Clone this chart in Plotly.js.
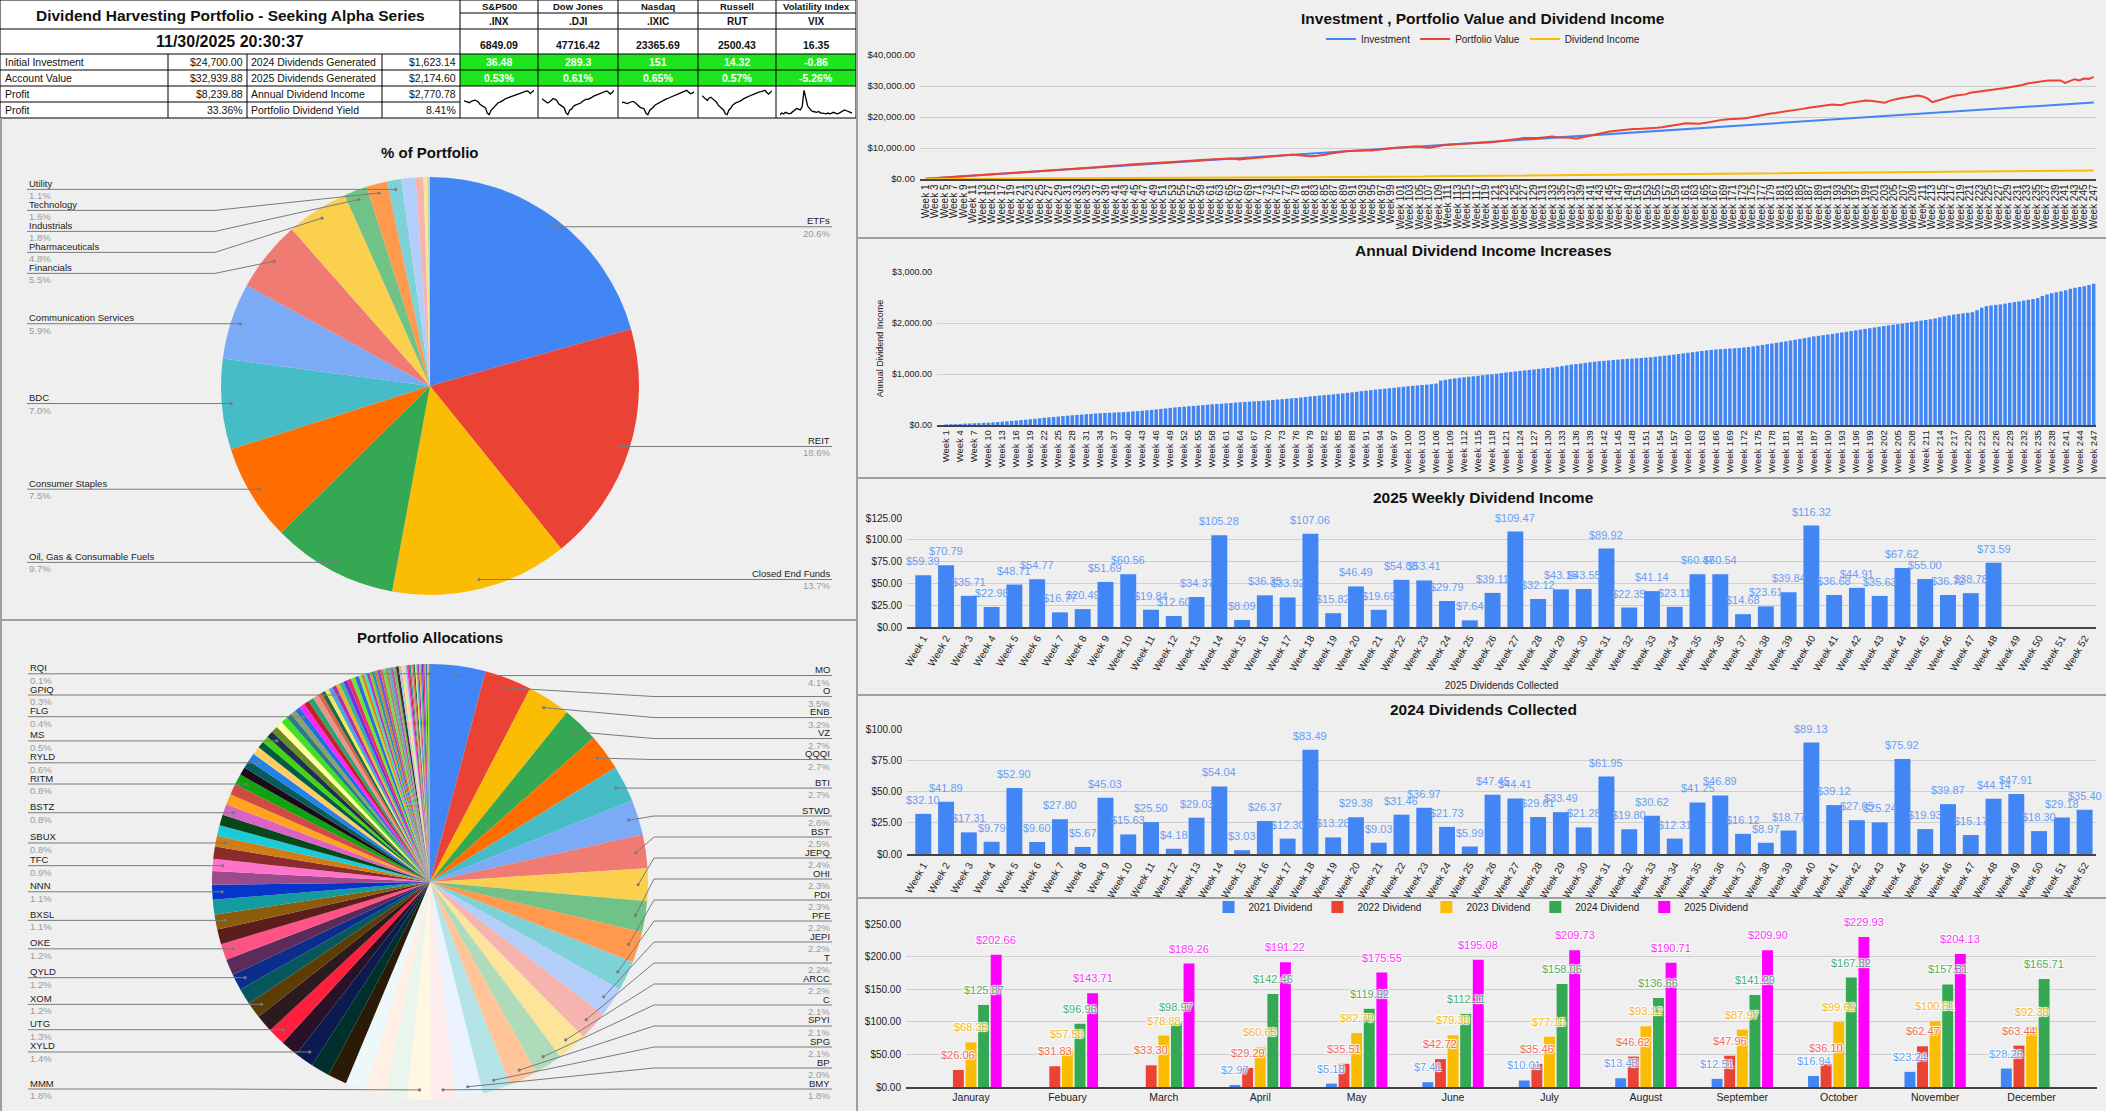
<!DOCTYPE html>
<html><head><meta charset="utf-8">
<script src="https://cdn.plot.ly/plotly-3.0.1.min.js"></script>
<style>html,body{margin:0;padding:0;background:#efefef;overflow:hidden}</style>
</head><body><div id="chart" style="width:2106px;height:1111px"></div>
<script>
// ---------------- DATA ----------------
const tableTitle = 'Dividend Harvesting Portfolio - Seeking Alpha Series';
const tableDate = '11/30/2025 20:30:37';
const indexNames = ['S&P500','Dow Jones','Nasdaq','Russell','Volatility Index'];
const indexTickers = ['.INX','.DJI','.IXIC','RUT','VIX'];
const indexValues = ['6849.09','47716.42','23365.69','2500.43','16.35'];
const indexChange = ['36.48','289.3','151','14.32','-0.86'];
const indexChangePct = ['0.53%','0.61%','0.65%','0.57%','-5.26%'];
const summaryLabels = ['Initial Investment','Account Value','Profit','Profit'];
const summaryValues = ['$24,700.00','$32,939.88','$8,239.88','33.36%'];
const dividendLabels = ['2024 Dividends Generated','2025 Dividends Generated','Annual Dividend Income','Portfolio Dividend Yield'];
const dividendValues = ['$1,623.14','$2,174.60','$2,770.78','8.41%'];

const sparkSP500 = [6050,6000,5950,5900,6000,6050,6100,6050,5950,5750,5650,5600,5500,5100,4980,5300,5450,5650,5800,5900,5950,6000,6100,6200,6250,6300,6350,6400,6450,6500,6550,6600,6650,6700,6750,6800,6750,6600,6750,6849];
const sparkDow = [44500,44000,43500,42800,43200,44000,44500,44300,43800,42500,41800,41500,41000,39000,38300,40000,40500,41500,42000,42300,42500,42800,43500,44000,44300,44200,44500,45000,45500,45800,46200,46500,46800,47000,47200,47500,47000,46300,46900,47716];
const sparkNasdaq = [19500,19700,19400,19200,19600,19800,20000,19600,19000,18200,17800,17600,17300,15800,15300,16800,17300,18000,18700,19100,19500,19800,20200,20600,20900,21100,21400,21700,22000,22300,22600,22800,23000,23400,23700,23900,23300,22700,22900,23366];
const sparkRussell = [2350,2300,2250,2200,2280,2300,2250,2200,2150,2050,2000,1950,1900,1780,1750,1900,1950,2050,2100,2130,2150,2170,2200,2250,2280,2300,2320,2350,2380,2400,2430,2450,2470,2480,2500,2520,2460,2400,2450,2500];
const sparkVIX = [14,16,15,17,16,15,16,18,19,22,21,20,24,45,35,25,22,19,18,17,17,18,16,16,15,15,16,15,16,17,16,15,16,17,18,20,19,18,17,16];

const sectorLabels = ['ETFs','REIT','Closed End Funds','Oil, Gas & Consumable Fuels','Consumer Staples','BDC','Communication Services','Financials','Pharmaceuticals','Industrials','Technology','Utility',null,null,null,null];
const sectorPct = [20.6,18.6,13.7,9.7,7.5,7.0,5.9,5.5,4.8,1.8,1.6,1.1,1.1,0.6,0.3,0.2];

const allocLabels = ['MO','O','ENB','VZ','QQQI','BTI','STWD','BST','JEPQ','OHI','PDI','PFE','JEPI','T','ARCC','C','SPYI','SPG','BP','BMY',
 'MMM',null,null,null,null,null,'XYLD',null,'UTG',null,'XOM',null,'QYLD',null,'OKE',null,'BXSL',null,'NNN',null,
 'TFC',null,'SBUX',null,null,'BSTZ',null,null,'RITM',null,null,'RYLD',null,null,null,'MS',null,null,null,null,
 null,'FLG',null,null,null,null,null,null,null,null,'GPIQ',null,null,null,null,null,null,
 null,null,null,null,null,null,null,null,null,null,null,null,null,null,null,
 null,null,null,null,null,null,null,null,null,null,null,null,null,null,null,null,null,null,null,null,null,null,'RQI'];
const allocPct = [4.1,3.5,3.2,2.7,2.7,2.7,2.6,2.5,2.4,2.3,2.3,2.2,2.2,2.2,2.2,2.1,2.1,2.1,2.0,1.8,
 1.8,1.6,1.5,1.5,1.4,1.4,1.4,1.3,1.3,1.3,1.2,1.2,1.2,1.2,1.2,1.1,1.1,1.1,1.1,1.0,
 0.9,0.9,0.8,0.8,0.8,0.8,0.8,0.8,0.8,0.6,0.6,0.6,0.6,0.5,0.5,0.5,0.5,0.5,0.5,0.4,
 0.4,0.4,0.4,0.4,0.4,0.4,0.3,0.3,0.3,0.3,0.3,0.3,0.3,0.3,0.3,0.3,0.3,
 0.2,0.2,0.2,0.2,0.2,0.2,0.2,0.2,0.2,0.2,0.2,0.2,0.2,0.2,0.2,
 0.1,0.1,0.1,0.1,0.1,0.1,0.1,0.1,0.1,0.1,0.1,0.1,0.1,0.1,0.1,0.1,0.1,0.1,0.1,0.1,0.1,0.1,0.1];

const investment = [100,200,300,400,500,600,700,800,900,1000,1100,1200,1300,1400,1500,1600,1700,1800,1900,2000,
2100,2200,2300,2400,2500,2600,2700,2800,2900,3000,3100,3200,3300,3400,3500,3600,3700,3800,3900,4000,
4100,4200,4300,4400,4500,4600,4700,4800,4900,5000,5100,5200,5300,5400,5500,5600,5700,5800,5900,6000,
6100,6200,6300,6400,6500,6600,6700,6800,6900,7000,7100,7200,7300,7400,7500,7600,7700,7800,7900,8000,
8100,8200,8300,8400,8500,8600,8700,8800,8900,9000,9100,9200,9300,9400,9500,9600,9700,9800,9900,10000,
10100,10200,10300,10400,10500,10600,10700,10800,10900,11000,11100,11200,11300,11400,11500,11600,11700,11800,11900,12000,
12100,12200,12300,12400,12500,12600,12700,12800,12900,13000,13100,13200,13300,13400,13500,13600,13700,13800,13900,14000,
14100,14200,14300,14400,14500,14600,14700,14800,14900,15000,15100,15200,15300,15400,15500,15600,15700,15800,15900,16000,
16100,16200,16300,16400,16500,16600,16700,16800,16900,17000,17100,17200,17300,17400,17500,17600,17700,17800,17900,18000,
18100,18200,18300,18400,18500,18600,18700,18800,18900,19000,19100,19200,19300,19400,19500,19600,19700,19800,19900,20000,
20100,20200,20300,20400,20500,20600,20700,20800,20900,21000,21100,21200,21300,21400,21500,21600,21700,21800,21900,22000,
22100,22200,22300,22400,22500,22600,22700,22800,22900,23000,23100,23200,23300,23400,23500,23600,23700,23800,23900,24000,
24100,24200,24300,24400,24500,24600,24700];

const portfolioValue = [100,198,301,405,498,602,705,801,910,1012,
1105,1210,1302,1415,1508,1620,1715,1830,1925,2040,
2130,2245,2340,2455,2550,2660,2750,2870,2960,3080,
3170,3290,3380,3500,3590,3720,3800,3930,4010,4150,
4260,4390,4520,4700,4760,4850,4980,5060,5130,5210,
5320,5400,5510,5650,5800,5920,6010,6080,6150,6220,
6330,6420,6500,6580,6650,6520,6330,6480,6620,6800,
6920,7050,7180,7350,7580,7760,7900,7820,7750,7600,
7420,7300,7380,7550,7820,8150,8480,8700,8900,9020,
9120,9180,9230,9200,9180,9300,9520,9700,9900,10050,
10180,10320,10410,10450,10380,10200,10100,10350,10700,10900,
11050,11120,11180,11250,11300,11380,11450,11500,11700,11850,
12000,12150,12350,12500,12750,13000,13200,13150,13100,13200,
13400,13550,13700,13500,13400,13450,13300,13000,13350,13700,
14000,14300,14650,15000,15300,15500,15700,15850,16000,16100,
16150,16200,16250,16300,16500,16700,16900,17100,17300,17650,
18000,17900,17700,17800,18100,18400,18700,19000,19150,19250,
19300,19400,19500,19700,20000,20300,20700,21000,21150,21300,
21500,21800,22100,22300,22500,22700,22950,23200,23450,23700,
23800,24000,23900,23850,24400,24600,24800,25000,25300,25250,
25100,24850,24600,25200,25700,25950,26200,26450,26700,26900,
26600,26000,24800,25300,25800,26300,26600,26900,27100,27300,
27800,28000,28200,28400,28550,28700,29000,29300,29550,29800,
30050,30300,30800,31050,31300,31500,31700,31750,31700,31800,
31000,31500,32200,31800,32400,32300,32940];

const annualDividendIncome = [12,15,18,22,27,30,34,38,42,46,
52,58,65,72,80,88,96,104,112,122,
132,142,150,158,165,175,182,190,198,205,
212,218,225,232,236,240,244,248,252,258,
265,272,280,288,296,305,315,325,335,345,
352,360,368,375,382,390,398,405,412,418,
425,432,440,446,452,458,464,470,476,482,
490,498,506,514,522,530,540,550,560,570,
578,586,594,602,610,620,630,640,652,664,
674,684,694,704,712,720,730,740,750,760,
768,776,784,792,800,812,870,885,900,915,
925,935,945,955,965,975,985,995,1005,1018,
1030,1040,1050,1060,1070,1080,1090,1100,1110,1118,
1126,1140,1155,1170,1185,1195,1205,1218,1230,1240,
1250,1258,1266,1274,1282,1290,1296,1302,1308,1314,
1320,1328,1338,1348,1358,1368,1380,1392,1404,1416,
1428,1440,1452,1462,1472,1480,1488,1494,1500,1506,
1512,1520,1530,1542,1556,1570,1584,1598,1612,1626,
1640,1656,1672,1688,1704,1720,1736,1750,1762,1774,
1786,1800,1814,1828,1842,1856,1870,1884,1898,1912,
1926,1940,1954,1966,1978,1990,2004,2018,2032,2046,
2060,2074,2090,2110,2130,2148,2164,2178,2190,2200,
2212,2250,2300,2330,2345,2355,2365,2380,2395,2410,
2425,2440,2455,2470,2490,2530,2560,2585,2605,2620,
2640,2670,2690,2705,2720,2745,2770.78];

const div2025Weekly = [59.39,70.79,35.71,22.98,48.71,54.77,16.77,20.49,51.69,60.56,19.84,12.60,34.37,105.28,8.09,36.35,33.92,107.06,15.82,46.49,19.69,54.08,53.41,29.79,7.64,39.11,109.47,32.12,43.15,43.55,89.92,22.35,41.14,23.11,60.47,60.54,14.68,23.61,39.84,116.32,36.68,44.91,35.63,67.62,55.00,36.72,38.78,73.59,null,null,null,null];
const div2024Weekly = [32.10,41.89,17.31,9.79,52.90,9.60,27.80,5.67,45.03,15.63,25.50,4.18,29.03,54.04,3.03,26.37,12.30,83.49,13.28,29.38,9.03,31.46,36.97,21.73,5.99,47.45,44.41,29.61,33.49,21.28,61.95,19.80,30.62,12.31,41.25,46.89,16.12,8.97,18.77,89.13,39.12,27.05,25.24,75.92,19.93,39.87,15.17,44.14,47.91,18.30,29.18,35.40];

const months = ['Januray','Febuary','March','April','May','June','July','August','September','October','November','December'];
const div2021 = [null,null,null,2.97,5.18,7.41,10.01,13.43,12.51,16.94,23.24,28.26];
const div2022 = [26.06,31.83,33.30,29.29,35.51,42.72,35.46,46.62,47.96,36.10,62.47,63.44];
const div2023 = [68.33,57.58,78.88,60.63,82.70,79.38,77.15,93.12,87.97,99.62,100.81,92.38];
const div2024 = [125.87,96.96,98.97,142.46,119.92,112.11,158.06,136.66,141.29,167.82,157.31,165.71];
const div2025 = [202.66,143.71,189.26,191.22,175.55,195.08,209.73,190.71,209.90,229.93,204.13,null];
const monthlySeriesNames = ['2021 Dividend','2022 Dividend','2023 Dividend','2024 Dividend','2025 Dividend'];

// ---------------- HELPERS ----------------
const W = 2106, H = 1111;
const FONT = 'Liberation Sans, Arial, sans-serif';
const X = v => v / W, Y = v => 1 - v / H;
const px = (a, b) => [a / W, b / W];
const py = (top, bottom) => [1 - bottom / H, 1 - top / H];
const weeksAll = investment.map((_, i) => 'Week ' + (i + 1));
const weeks52 = div2024Weekly.map((_, i) => 'Week ' + (i + 1));
const money = v => (v == null ? '' : '$' + v.toFixed(2));

const shapes = [], annotations = [], traces = [];
function txt(x, y, text, o = {}) {
  annotations.push({xref:'paper', yref:'paper', x:X(x), y:Y(y), text, showarrow:false,
    xanchor:o.xa || 'center', yanchor:'middle',
    font:{family:FONT, size:o.size || 10.5, color:o.color || '#111'}});
}
function line(x0, y0, x1, y1, color = '#000', width = 1) {
  shapes.push({type:'line', xref:'paper', yref:'paper', x0:X(x0), y0:Y(y0), x1:X(x1), y1:Y(y1), line:{color, width}});
}
function rect(x0, y0, x1, y1, fill) {
  shapes.push({type:'rect', xref:'paper', yref:'paper', x0:X(x0), y0:Y(y0), x1:X(x1), y1:Y(y1), fillcolor:fill, line:{width:0}, layer:'below'});
}
function barLabels(axis, values, offset, color, size, yshift, halo) {
  values.forEach((v, i) => {
    if (v == null) return;
    const font = {family:FONT, size, color};
    if (halo) font.shadow = '1px 1px 1px #fff, -1px -1px 1px #fff, 1px -1px 1px #fff, -1px 1px 1px #fff';
    annotations.push({xref:'x' + axis, yref:'y' + axis, x:i + offset, y:v, text:money(v), showarrow:false,
      yshift, yanchor:'middle', xanchor:'center', font});
  });
}

// ---------------- TABLE ----------------
const tc = [0,168,247,382,460,538,618,698,776,856];
rect(0, 0, 856, 118, '#ffffff');
for (let j = 0; j < 5; j++) { rect(tc[4+j], 54, tc[5+j], 70, '#1ee41e'); rect(tc[4+j], 70, tc[5+j], 86, '#1ee41e'); }
[0,29,54,70,86,118].forEach(y => line(0, y, 856, y));
line(0, 102, 460, 102);
line(460, 13, 856, 13);
[168,247,382].forEach(x => line(x, 54, x, 118));
[0,460,538,618,698,776,856].forEach(x => line(x, 0, x, 118));
txt(230, 15, '<b>' + tableTitle + '</b>', {size:15.5});
txt(230, 42, '<b>' + tableDate + '</b>', {size:16});
for (let j = 0; j < 5; j++) {
  const cx = (tc[4+j] + tc[5+j]) / 2;
  txt(cx, 7, '<b>' + indexNames[j] + '</b>', {size:9.5});
  txt(cx, 21.5, '<b>' + indexTickers[j] + '</b>', {size:10});
  txt(cx, 45, '<b>' + indexValues[j] + '</b>', {size:10.5});
  txt(cx, 62, '<b>' + indexChange[j] + '</b>', {size:10.5, color:'#ffffff'});
  txt(cx, 78, '<b>' + indexChangePct[j] + '</b>', {size:10.5, color:'#ffffff'});
}
const rowY = [62, 78, 94, 110];
for (let i = 0; i < 4; i++) {
  txt(3, rowY[i], summaryLabels[i], {xa:'left'});
  txt(245, rowY[i], summaryValues[i], {xa:'right'});
  txt(249, rowY[i], dividendLabels[i], {xa:'left'});
  txt(458, rowY[i], dividendValues[i], {xa:'right'});
}
const sparks = [sparkSP500, sparkDow, sparkNasdaq, sparkRussell, sparkVIX];
const sparkLayout = {};
sparks.forEach((s, j) => {
  const n = j + 6;
  traces.push({type:'scatter', mode:'lines', x:s.map((_, i) => i), y:s, xaxis:'x' + n, yaxis:'y' + n,
    line:{color:'#000', width:1.3}, showlegend:false, hoverinfo:'skip'});
  sparkLayout['xaxis' + n] = {domain:px(tc[4+j] + 4, tc[5+j] - 4), visible:false, anchor:'y' + n, fixedrange:true};
  sparkLayout['yaxis' + n] = {domain:py(89, 116), visible:false, anchor:'x' + n, fixedrange:true};
});

// ---------------- PIES ----------------
const pieGray = '#7a7a7a';
function pieLabels(values, names, cx, cy, r, gap, leftX, rightX, top, bottom) {
  const total = values.reduce((a, b) => a + b, 0);
  let cum = 0; const items = [];
  values.forEach((v, i) => {
    const mid = (cum + v / 2) / total * 2 * Math.PI; cum += v;
    if (!names[i]) return;
    items.push({name:names[i], pct:(v / total * 100).toFixed(1) + '%',
      px:cx + 0.955 * r * Math.sin(mid), py:cy - 0.955 * r * Math.cos(mid), left:mid > Math.PI});
  });
  [true, false].forEach(side => {
    const arr = items.filter(it => it.left === side).sort((a, b) => a.py - b.py);
    arr.forEach((it, k) => { it.y = Math.max(it.py, top, k ? arr[k-1].y + gap : -1e9); });
    for (let k = arr.length - 1; k >= 0; k--) arr[k].y = Math.min(arr[k].y, bottom, k < arr.length - 1 ? arr[k+1].y - gap : 1e9);
    arr.forEach(it => {
      const ex = side ? leftX : rightX, bx = side ? cx - r - 6 : cx + r + 6;
      shapes.push({type:'path', xref:'paper', yref:'paper',
        path:`M ${X(ex)},${Y(it.y)} L ${X(bx)},${Y(it.y)} L ${X(it.px)},${Y(it.py)}`,
        line:{color:pieGray, width:1}});
      shapes.push({type:'circle', xref:'paper', yref:'paper', x0:X(it.px - 1.6), x1:X(it.px + 1.6), y0:Y(it.py + 1.6), y1:Y(it.py - 1.6),
        fillcolor:pieGray, line:{width:0}});
      txt(ex, it.y - 6, it.name, {xa:side ? 'left' : 'right', size:9.5, color:'#222'});
      txt(ex, it.y + 6.5, it.pct, {xa:side ? 'left' : 'right', size:9.5, color:'#9a9a9a'});
    });
  });
}
const sectorColors = ['#4285f4','#ea4335','#fbbc04','#34a853','#ff6d01','#46bdc6','#7baaf7','#f07b72','#fcd04f','#71c287','#ff994d','#7ed1d7','#b3cefb','#f7b4ae','#fde49b','#aedcba'];
traces.push({type:'pie', values:sectorPct, labels:sectorLabels.map((l, i) => l || ('other ' + (i + 1))),
  sort:false, direction:'clockwise', rotation:0, textinfo:'none', hoverinfo:'label+percent',
  marker:{colors:sectorColors, line:{width:0}}, domain:{x:px(221, 639), y:py(177, 595)}, showlegend:false});
pieLabels(sectorPct, sectorLabels, 430, 386, 209, 21, 27, 832, 187, 583);

const allocBase = ['#4285f4','#ea4335','#fbbc04','#34a853','#ff6d01','#46bdc6','#7baaf7','#f07b72','#fcd04f','#71c287','#ff994d','#7ed1d7','#b3cefb','#f7b4ae','#fde49b','#aedcba','#ffc599','#b5e4e8','#ecf3fe','#fdeceb',
 '#fff7e1','#eaf6ed','#ffefe5','#ecf8f9','#2a1a06','#00302b','#0b1a4f','#2b1128','#ff1e3c','#2d1a1e','#5c3d06','#07585c','#0b2d8c','#5b2b5b','#ff5285','#5e1d1d','#8d5c0b','#149ba0','#0436cc','#9b4a8c',
 '#ff73cc','#8c2b2b','#cf7d17','#1ccad9','#07481b','#d962c4','#ffa321','#cf4c44','#0fa30f','#1c0a1a','#095b5b','#2182ee','#ffcc66','#005c42','#44d412','#1c3152','#6b8c22','#ffff9e','#3fe324','#2b7b8c',
 '#8aa36b','#2070e0'];
const allocExtra = ['#ff24ff','#c42222','#2aa273','#e6968a','#d9664a','#1f6b3d','#f5e663','#46a6e6','#b32db3','#e6b32d','#2db3a6','#7a2de6','#e62d6b','#6be62d','#2d6be6','#a6e62d','#e6772d','#2de6c4','#c42dc4','#8ac42d','#2d8ac4','#c48a2d','#5a5ae6','#e65a5a','#5ae65a','#b38a5a','#5ab3b3','#b35ab3','#8ab35a','#333333','#99ccff','#ff9999','#ccff99','#ffcc99','#99ffcc','#cc99ff'];
const allocColors = allocPct.map((_, i) => i < allocBase.length ? allocBase[i] : allocExtra[(i - allocBase.length) % allocExtra.length]);
traces.push({type:'pie', values:allocPct, labels:allocLabels.map((l, i) => l || ('holding ' + (i + 1))),
  sort:false, direction:'clockwise', rotation:0, textinfo:'none', hoverinfo:'label+percent',
  marker:{colors:allocColors, line:{width:0}}, domain:{x:px(212, 648), y:py(664, 1100)}, showlegend:false});
pieLabels(allocPct, allocLabels, 430, 882, 218, 21, 28, 832, 673, 1089);

// ---------------- RIGHT CHARTS ----------------
traces.push({type:'scatter', mode:'lines', x:weeksAll, y:investment, name:'Investment', line:{color:'#4285f4', width:2}, xaxis:'x', yaxis:'y', legend:'legend', hoverinfo:'skip'});
traces.push({type:'scatter', mode:'lines', x:weeksAll, y:portfolioValue, name:'Portfolio Value', line:{color:'#ea4335', width:2}, xaxis:'x', yaxis:'y', legend:'legend', hoverinfo:'skip'});
traces.push({type:'scatter', mode:'lines', x:weeksAll, y:annualDividendIncome, name:'Dividend Income', line:{color:'#fbbc04', width:2}, xaxis:'x', yaxis:'y', legend:'legend', hoverinfo:'skip'});

traces.push({type:'bar', x:weeksAll, y:annualDividendIncome, width:0.75, marker:{color:'#4285f4'}, xaxis:'x2', yaxis:'y2', showlegend:false, hoverinfo:'skip'});

traces.push({type:'bar', x:weeks52, y:div2025Weekly, width:0.7, marker:{color:'#4285f4'}, xaxis:'x3', yaxis:'y3', showlegend:false, hoverinfo:'skip'});
barLabels(3, div2025Weekly, 0, '#6a9cf5', 11, 14, false);
traces.push({type:'bar', x:weeks52, y:div2024Weekly, width:0.7, marker:{color:'#4285f4'}, xaxis:'x4', yaxis:'y4', showlegend:false, hoverinfo:'skip'});
barLabels(4, div2024Weekly, 0, '#6a9cf5', 11, 14, false);

const monthly = [div2021, div2022, div2023, div2024, div2025];
const monthlyColors = ['#4285f4','#ea4335','#fbbc04','#34a853','#ff00ff'];
const monthlyTextColors = ['#6a9cf5','#ee6b60','#f5b920','#4fae66','#ff33ff'];
monthly.forEach((s, k) => {
  traces.push({type:'bar', x:months, y:s, name:monthlySeriesNames[k], width:0.113, offset:(k - 2) * 0.1307 - 0.0565,
    marker:{color:monthlyColors[k]}, xaxis:'x5', yaxis:'y5', legend:'legend2', hoverinfo:'skip'});
  barLabels(5, s, (k - 2) * 0.1307, monthlyTextColors[k], 11, 15, true);
});

// chart titles
txt(430, 152, '<b>% of Portfolio</b>', {size:15});
txt(430, 637, '<b>Portfolio Allocations</b>', {size:15});
txt(1483, 18, '<b>Investment , Portfolio Value and Dividend Income</b>', {size:15.5});
txt(1483, 250, '<b>Annual Dividend Income Increases</b>', {size:15.5});
txt(1483, 498, '<b>2025 Weekly Dividend Income</b>', {size:15.5});
txt(1483, 709, '<b>2024 Dividends Collected</b>', {size:15.5});

// panel separators
const sep = '#a0a0a0';
line(857, 0, 857, 1111, sep, 2);
line(1, 118, 1, 1111, sep, 2);
line(0, 620, 856, 620, sep, 2);
[238, 478, 695, 898].forEach(y => line(858, y, 2106, y, sep, 2));

const tickFont = {family:FONT, size:10, color:'#222'};
const grid = '#cfcfcf';
const yBase = {tickformat:'$,.2f', gridcolor:grid, gridwidth:1, zeroline:false, showline:false, ticks:'', tickfont:tickFont, fixedrange:true, ticklabelstandoff:4};
const xBase = {type:'category', showgrid:false, showline:true, linecolor:'#444', linewidth:1.5, ticks:'', tickfont:tickFont, fixedrange:true};

const layout = Object.assign({
  width:W, height:H, margin:{l:0, r:0, t:0, b:0},
  paper_bgcolor:'#efefef', plot_bgcolor:'rgba(0,0,0,0)',
  font:{family:FONT, size:10, color:'#222'}, hovermode:false,
  xaxis:Object.assign({}, xBase, {domain:px(920, 2096), anchor:'y', range:[-1.2, 246.5], tickmode:'array',
    tickvals:weeksAll.filter((_, i) => i % 2 === 0), tickangle:-90, tickfont:{family:FONT, size:10, color:'#222'}}),
  yaxis:Object.assign({}, yBase, {domain:py(55, 179), anchor:'x', range:[0, 40000], tickvals:[0,10000,20000,30000,40000], tickfont:{family:FONT, size:9.5, color:'#222'}}),
  xaxis2:Object.assign({}, xBase, {domain:px(937, 2096), anchor:'y2', range:[-2, 246.5], tickmode:'array',
    tickvals:weeksAll.filter((_, i) => i % 3 === 0), tickangle:-90, tickfont:{family:FONT, size:9.5, color:'#222'}}),
  yaxis2:Object.assign({}, yBase, {domain:py(272, 425), anchor:'x2', range:[0, 3000], tickvals:[0,1000,2000,3000], tickfont:{family:FONT, size:9, color:'#222'},
    title:{text:'Annual Dividend Income', font:{family:FONT, size:9, color:'#222'}, standoff:6}}),
  xaxis3:Object.assign({}, xBase, {domain:px(907, 2096), anchor:'y3', range:[-0.716, 51.5], tickangle:-60,
    title:{text:'2025 Dividends Collected', font:{family:FONT, size:10, color:'#222'}, standoff:10}}),
  yaxis3:Object.assign({}, yBase, {domain:py(518, 627), anchor:'x3', range:[0, 125], tickvals:[0,25,50,75,100,125]}),
  xaxis4:Object.assign({}, xBase, {domain:px(907, 2096), anchor:'y4', range:[-0.716, 51.5], tickangle:-60}),
  yaxis4:Object.assign({}, yBase, {domain:py(729, 854), anchor:'x4', range:[0, 100], tickvals:[0,25,50,75,100]}),
  xaxis5:Object.assign({}, xBase, {domain:px(906, 2097), anchor:'y5', range:[-0.674, 11.679], tickangle:0, tickfont:{family:FONT, size:10.5, color:'#222'}}),
  yaxis5:Object.assign({}, yBase, {domain:py(924, 1087), anchor:'x5', range:[0, 250], tickvals:[0,50,100,150,200,250]}),
  legend:{orientation:'h', x:X(1483), xanchor:'center', y:Y(39), yanchor:'middle', bgcolor:'rgba(0,0,0,0)', font:{family:FONT, size:10, color:'#222'}, itemwidth:30, tracegroupgap:0},
  legend2:{orientation:'h', x:X(1481), xanchor:'center', y:Y(907), yanchor:'middle', bgcolor:'rgba(0,0,0,0)', font:{family:FONT, size:10, color:'#222'}, itemwidth:30},
  shapes, annotations
}, sparkLayout);

Plotly.newPlot('chart', traces, layout, {staticPlot:true, displayModeBar:false});
</script></body></html>
